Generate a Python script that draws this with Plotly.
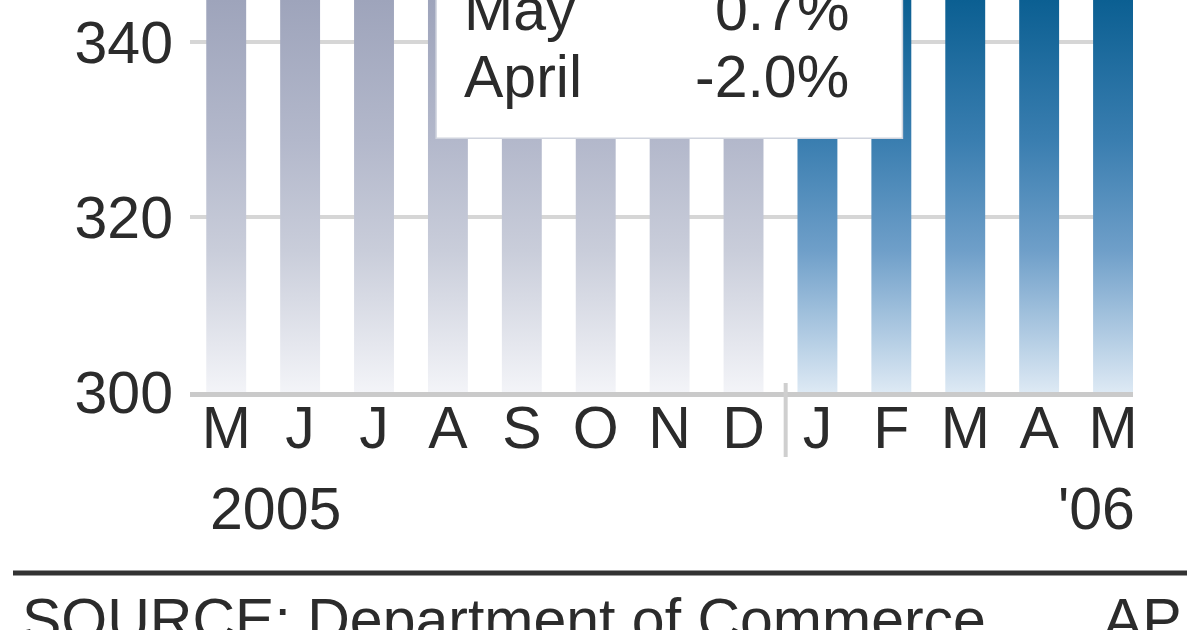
import plotly.graph_objects as go

# ---- data ----
months = ["M", "J", "J", "A", "S", "O", "N", "D", "J", "F", "M", "A", "M"]
years = ["2005"] * 8 + ["2006"] * 5
values = [350.5, 352.0, 355.8, 351.2, 353.4, 354.6, 357.1, 358.3,
          362.0, 361.4, 366.5, 359.2, 361.7]
change_labels = ["May", "April"]
change_values = ["0.7%", "-2.0%"]
yticks = [300, 320, 340]
year_labels = ["2005", "'06"]
source_text = "SOURCE: Department of Commerce"
credit_text = "AP"

# ---- style ----
FONT = "Liberation Sans, Arial, Helvetica, sans-serif"
TXT = "#2b2b2b"
FS = 59
HALF = 0.27
YMIN, YMAX = 300, 344.8

gray_scale = [[0.0, "#f3f4f8"], [0.36, "#c9cdda"], [0.64, "#b3b8cb"], [1.0, "#9ea4bb"]]
blue_scale = [[0.0, "#dde9f4"], [0.36, "#6f9fc9"], [0.64, "#3a7eb0"], [1.0, "#0b5f92"]]

fig = go.Figure()
for i, (v, yr) in enumerate(zip(values, years)):
    cs = gray_scale if yr == "2005" else blue_scale
    fig.add_trace(go.Scatter(
        x=[i - HALF, i + HALF, i + HALF, i - HALF, i - HALF],
        y=[YMIN, YMIN, v, v, YMIN],
        mode="lines", fill="toself", line=dict(width=0),
        fillgradient=dict(type="vertical", colorscale=cs, start=YMIN, stop=YMAX),
        hoverinfo="skip", showlegend=False,
    ))

# white inset box covering the middle bars
fig.add_shape(type="rect", xref="x", yref="y", x0=2.84, x1=9.15, y0=329.0, y1=348,
              fillcolor="white", line=dict(color="#d0d4de", width=1.5), layer="above")

ann = []
for k, (lab, val) in enumerate(zip(change_labels, change_values)):
    yc = [10, 77][k]
    py = (392 - yc) / 392
    ann.append(dict(x=3.19, y=py, xref="x", yref="paper", text=lab, showarrow=False,
                    xanchor="left", yanchor="middle", font=dict(family=FONT, size=FS, color=TXT)))
    ann.append(dict(x=8.46, y=py, xref="x", yref="paper", text=val, showarrow=False,
                    xanchor="right", yanchor="middle", font=dict(family=FONT, size=FS, color=TXT)))

# year labels
ann.append(dict(x=(208 - 190) / 943, y=(392 - 509) / 392, xref="paper", yref="paper",
                text=year_labels[0], showarrow=False, xanchor="left", yanchor="middle",
                font=dict(family=FONT, size=FS, color=TXT)))
ann.append(dict(x=(1137 - 190) / 943, y=(392 - 509) / 392, xref="paper", yref="paper",
                text=year_labels[1], showarrow=False, xanchor="right", yanchor="middle",
                font=dict(family=FONT, size=FS, color=TXT)))

# source line
ann.append(dict(x=(20 - 190) / 943, y=(392 - 620) / 392, xref="paper", yref="paper",
                text=source_text, showarrow=False, xanchor="left", yanchor="middle",
                font=dict(family=FONT, size=FS, color=TXT)))
ann.append(dict(x=(1184 - 190) / 943, y=(392 - 620) / 392, xref="paper", yref="paper",
                text=credit_text, showarrow=False, xanchor="right", yanchor="middle",
                font=dict(family=FONT, size=FS, color=TXT)))

shapes = [
    # year separator
    dict(type="line", xref="x", yref="paper", x0=7.57, x1=7.57,
         y0=(392 - 457) / 392, y1=(392 - 383) / 392, line=dict(color="#cfcfcf", width=4)),
    # black rule
    dict(type="line", xref="paper", yref="paper", x0=(13 - 190) / 943, x1=(1187 - 190) / 943,
         y0=(392 - 573) / 392, y1=(392 - 573) / 392, line=dict(color="#333333", width=5)),
]
for s in shapes:
    fig.add_shape(**s)

fig.update_layout(
    width=1200, height=630,
    margin=dict(l=190, r=67, t=0, b=238, autoexpand=False),
    paper_bgcolor="white", plot_bgcolor="white",
    annotations=ann,
    font=dict(family=FONT, size=FS, color=TXT),
)
fig.update_xaxes(range=[-0.49, 12.27], tickvals=list(range(len(months))), ticktext=months,
                 showgrid=False, zeroline=False, showline=True, linecolor="#cacaca",
                 linewidth=5, ticks="", ticklabelstandoff=-20,
                 tickfont=dict(family=FONT, size=FS, color=TXT))
fig.update_yaxes(range=[YMIN, YMAX], tickvals=yticks, showgrid=True, gridcolor="#d6d6d6",
                 gridwidth=4, zeroline=False, showline=False, ticks="", ticklabelstandoff=16,
                 tickfont=dict(family=FONT, size=FS, color=TXT))

fig.write_html("out.html", config={"displayModeBar": False},
               post_script="document.body.style.margin='0';document.body.style.overflow='hidden';")
